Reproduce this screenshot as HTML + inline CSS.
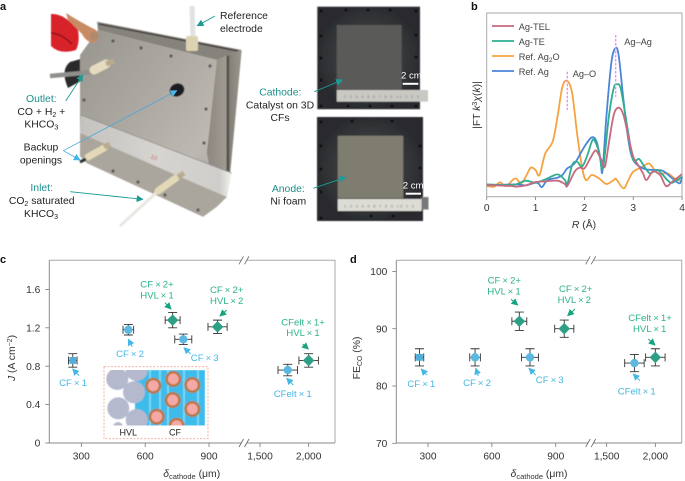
<!DOCTYPE html>
<html>
<head>
<meta charset="utf-8">
<style>
html,body{margin:0;padding:0;background:#fff;width:685px;height:481px;overflow:hidden}
svg{display:block}
text{font-family:"Liberation Sans",sans-serif;font-size:9.6px;fill:#222}
.t{fill:#1b8f8c;font-size:10.4px}
.k{font-size:10.4px;fill:#222}
.tick{font-size:10.2px;fill:#333}
.b{fill:#45b8e6;font-size:9.6px;word-spacing:-0.6px}
.g{fill:#2cb38c;font-size:9.6px;word-spacing:-0.6px}
.pl{font-weight:bold;font-size:11px;fill:#111}
.ttl{font-size:10.4px;fill:#333}
.leg{font-size:9.2px;fill:#444}
</style>
</head>
<body>
<svg id="fig" xmlns="http://www.w3.org/2000/svg" width="685" height="481" viewBox="0 0 685 481">
<defs>
<filter id="soft"><feGaussianBlur stdDeviation="0.45"/></filter>
<linearGradient id="steel" x1="0" y1="0" x2="1" y2="1"><stop offset="0" stop-color="#98958f"/><stop offset=".45" stop-color="#aeaaa3"/><stop offset=".75" stop-color="#bdb9b2"/><stop offset="1" stop-color="#a09c94"/></linearGradient>
<linearGradient id="side" x1="0" y1="0" x2="1" y2="0"><stop offset="0" stop-color="#8b867f"/><stop offset=".55" stop-color="#a09b92"/><stop offset=".6" stop-color="#3d3b38"/><stop offset=".66" stop-color="#86827a"/><stop offset="1" stop-color="#9a9488"/></linearGradient>
<linearGradient id="ruler" x1="0" y1="0" x2="1" y2="0"><stop offset="0" stop-color="#c4c2bf"/><stop offset=".5" stop-color="#d6d4d0"/><stop offset=".92" stop-color="#cfcecb"/><stop offset="1" stop-color="#f1f1ef"/></linearGradient>
<radialGradient id="plate"><stop offset="0" stop-color="#4e5154"/><stop offset="1" stop-color="#2a2c2f"/></radialGradient>
<clipPath id="inset-clip"><rect x="106" y="370" width="99" height="55.5"/></clipPath>
<marker id="ah-t" viewBox="0 0 8 8" refX="7" refY="4" markerWidth="7" markerHeight="7" markerUnits="userSpaceOnUse" orient="auto"><path d="M0 0L8 4L0 8Z" fill="#1b9c94"/></marker>
<marker id="ah-b" viewBox="0 0 8 8" refX="7" refY="4" markerWidth="7" markerHeight="7" markerUnits="userSpaceOnUse" orient="auto"><path d="M0 0L8 4L0 8Z" fill="#45b8e6"/></marker>
<marker id="ah-g" viewBox="0 0 8 8" refX="7" refY="4" markerWidth="7" markerHeight="7" markerUnits="userSpaceOnUse" orient="auto"><path d="M0 0L8 4L0 8Z" fill="#16a37f"/></marker>
</defs>

<text class="pl" x="0" y="10">a</text>
<text class="pl" x="471" y="10">b</text>
<text class="pl" x="0" y="263">c</text>
<text class="pl" x="350" y="263">d</text>

<!-- Panel a photo -->
<g filter="url(#soft)">
  <path d="M70 62 Q60 70 68 88 L90 76 L84 58Z" fill="#2a2a2a"/>
  <polygon points="97,21.7 241.7,50 216.7,60 98,30" fill="#86827b"/>
  <path d="M99 24 L238 51" stroke="#2f2d2b" stroke-width="1.2" fill="none"/>
  <polygon points="216.7,60 241.7,50 230,175 226.7,197 216.7,206.7 206.7,153" fill="url(#side)"/>
  <polygon points="98,30 216.7,60 206.7,153 216.7,206.7 203,216.7 86.7,163 80,156 80,55" fill="url(#steel)"/>
  <polygon points="80,134 226.7,197 216.7,206.7 203,216.7 86.7,163 80,156" fill="#aaa69d"/>
  <polygon points="81,115 231.7,173 226.7,197 80,133" fill="url(#ruler)"/>
  <path d="M81 115 L231.7 173" stroke="#8a8883" stroke-width=".7"/>
  <text x="150" y="158" transform="rotate(21 150 158)" style="font-size:6px;fill:#c9605f">10</text>
  <path d="M51 14 Q64 13 78 30 Q80 42 76 50 Q60 55 51 46Z" fill="#d8222c"/>
  <path d="M51 33 Q62 34 72 44" stroke="#7a1016" stroke-width="1.2" fill="none"/>
  <path d="M66 13 Q80 22 96 30 Q102 38 94 43 Q86 42 82 34 L68 20Z" fill="#c98b63"/>
  <circle cx="94" cy="36" r="4.5" fill="#b08a6c"/>
  <path d="M50 76 L94 72" stroke="#8f8f8b" stroke-width="4.5"/>
  <path d="M94 70 L106 64" stroke="#e5dcc0" stroke-width="9" stroke-linecap="round"/>
  <path d="M106 64 L114 61" stroke="#b9ab8d" stroke-width="5"/>
  <ellipse cx="177" cy="90" rx="7.5" ry="6.5" fill="#1e1f22" transform="rotate(-25 177 90)"/>
  <path d="M192 6 L193 36" stroke="#dfe4e2" stroke-width="5"/>
  <rect x="186" y="36" width="12" height="15" rx="2" fill="#dcd2b2"/>
  <path d="M88 157 L104 148" stroke="#e3d9b8" stroke-width="7" stroke-linecap="round"/>
  <path d="M80 162 L86 159" stroke="#333" stroke-width="3"/>
  <path d="M104 147 L110 144" stroke="#b9ab8d" stroke-width="5"/>
  <path d="M158 191 L176 178" stroke="#e3d9b8" stroke-width="7" stroke-linecap="round"/>
  <path d="M178 177 L184 173" stroke="#b9ab8d" stroke-width="5"/>
  <path d="M120 226 L156 193" stroke="#e7e8e2" stroke-width="3"/>
  <g fill="#5b5a58">
    <circle cx="113" cy="41" r="1.6"/><circle cx="141" cy="48" r="1.6"/><circle cx="171" cy="56" r="1.6"/><circle cx="210" cy="66" r="1.6"/><circle cx="84" cy="100" r="1.6"/><circle cx="206" cy="109" r="1.6"/><circle cx="204" cy="143" r="1.6"/><circle cx="113" cy="171" r="1.6"/><circle cx="138" cy="182" r="1.6"/><circle cx="165" cy="195" r="1.6"/><circle cx="198" cy="210" r="1.6"/>
  </g>
</g>

<!-- Cathode and anode photos -->
<g filter="url(#soft)">
  <rect x="317.3" y="6.7" width="102.7" height="102.5" fill="url(#plate)"/>
  <rect x="336.7" y="25" width="65" height="64.5" fill="#5a5a58"/>
  <rect x="336.7" y="90" width="91.3" height="11.7" fill="#c9c8c3"/>
  <text x="344" y="98" style="font-size:4px;fill:#777" textLength="75">1 2 3 4 5 6 7 8 9 10 1 2 3</text>
  <g fill="#0f0f10"><circle cx="321" cy="11" r="1.5"/><circle cx="346" cy="10" r="1.5"/><circle cx="368" cy="10" r="1.5"/><circle cx="390" cy="10" r="1.5"/><circle cx="416" cy="11" r="1.5"/><circle cx="321" cy="36" r="1.5"/><circle cx="321" cy="58" r="1.5"/><circle cx="321" cy="80" r="1.5"/><circle cx="416" cy="35" r="1.5"/><circle cx="416" cy="57" r="1.5"/><circle cx="321" cy="106" r="1.5"/><circle cx="348" cy="106" r="1.5"/><circle cx="370" cy="106" r="1.5"/><circle cx="392" cy="106" r="1.5"/><circle cx="416" cy="106" r="1.5"/></g>
</g>
<rect x="402.7" y="82.8" width="15.6" height="2" fill="#fff"/>
<text x="401" y="78.5" style="font-size:9.6px;fill:#fff">2 cm</text>

<g filter="url(#soft)">
  <rect x="317" y="117" width="106" height="104" fill="url(#plate)"/>
  <rect x="337.7" y="135.7" width="65.6" height="62.5" fill="#7f7c70"/>
  <rect x="337.7" y="199" width="84" height="12" fill="#dcdbd4"/>
  <rect x="421.5" y="197" width="7" height="12.5" fill="#77787a"/>
  <text x="344" y="207.5" style="font-size:4px;fill:#777" textLength="70">1 2 3 4 5 6 7 8 9 10 1 2</text>
  <g fill="#0f0f10"><circle cx="321" cy="122" r="1.5"/><circle cx="352" cy="121" r="1.5"/><circle cx="392" cy="121" r="1.5"/><circle cx="420" cy="146" r="1.5"/><circle cx="321" cy="146" r="1.5"/><circle cx="321" cy="169" r="1.5"/><circle cx="321" cy="192" r="1.5"/><circle cx="420" cy="168" r="1.5"/><circle cx="321" cy="218" r="1.5"/><circle cx="371" cy="216" r="1.5"/><circle cx="393" cy="216" r="1.5"/></g>
</g>
<rect x="405.7" y="192.7" width="15.3" height="2" fill="#fff"/>
<text x="402.7" y="188.5" style="font-size:9.6px;fill:#fff">2 cm</text>

<!-- Panel a annotations -->
<g>
  <g fill="none" stroke="#1b9c94" stroke-width="0.9">
    <path d="M215 16L197.3 25.7" marker-end="url(#ah-t)"/>
    <path d="M65.7 101L82.7 75" marker-end="url(#ah-t)"/>
    <path d="M70 191.7L142.7 199.3" marker-end="url(#ah-t)"/>
    <path d="M314.3 91.7L342.3 80" marker-end="url(#ah-t)"/>
    <path d="M313.3 188.3L345.7 177.3" marker-end="url(#ah-t)"/>
  </g>
  <g fill="none" stroke="#45a8dc" stroke-width="0.8">
    <path d="M63.3 150.7L176.7 90.7" marker-end="url(#ah-b)"/>
    <path d="M63.3 150.7L80 160" marker-end="url(#ah-b)"/>
  </g>
  <text class="k" x="220" y="19">Reference</text>
  <text class="k" x="220" y="32">electrode</text>
  <g text-anchor="middle">
    <text class="t" x="41.3" y="102">Outlet:</text>
    <text class="k" x="41.3" y="115">CO + H<tspan dy="2" style="font-size:7px">2</tspan><tspan dy="-2"> +</tspan></text>
    <text class="k" x="41.3" y="127.5">KHCO<tspan dy="2" style="font-size:7px">3</tspan></text>
    <text class="k" x="41" y="150.5">Backup</text>
    <text class="k" x="41" y="163.5">openings</text>
    <text class="t" x="41.7" y="191">Inlet:</text>
    <text class="k" x="41.7" y="204">CO<tspan dy="2" style="font-size:7px">2</tspan><tspan dy="-2"> saturated</tspan></text>
    <text class="k" x="41" y="217">KHCO<tspan dy="2" style="font-size:7px">3</tspan></text>
    <text class="t" x="280.3" y="95.5">Cathode:</text>
    <text class="k" x="280" y="108.5">Catalyst on 3D</text>
    <text class="k" x="280" y="121">CFs</text>
    <text class="t" x="288.3" y="192">Anode:</text>
    <text class="k" x="288.3" y="204.5">Ni foam</text>
  </g>
</g>

<!-- Panel b text -->
<text class="ttl" transform="translate(480,105) rotate(-90)" text-anchor="middle">|FT <tspan font-style="italic">k</tspan><tspan dy="-3" style="font-size:7px">3</tspan><tspan dy="3" font-style="italic">χ</tspan>(<tspan font-style="italic">k</tspan>)|</text>
<text class="ttl" x="584" y="228" text-anchor="middle"><tspan font-style="italic">R</tspan> (Å)</text>
<text class="leg" x="572.7" y="77">Ag–O</text>
<text class="leg" x="624.3" y="45">Ag–Ag</text>
<g>
  <path d="M492 26H514" stroke="#c9697f" stroke-width="1.8"/>
  <path d="M492 41H514" stroke="#2fae90" stroke-width="1.8"/>
  <path d="M492 56H514" stroke="#f4a340" stroke-width="1.8"/>
  <path d="M492 71H514" stroke="#4a86d8" stroke-width="1.8"/>
  <text class="leg" x="518.7" y="30">Ag-TEL</text>
  <text class="leg" x="518.7" y="45">Ag-TE</text>
  <text class="leg" x="518.7" y="60">Ref. Ag<tspan dy="2" style="font-size:6.5px">2</tspan><tspan dy="-2">O</tspan></text>
  <text class="leg" x="518.7" y="75">Ref. Ag</text>
</g>

<!-- Panel c/d titles -->
<text class="ttl" transform="translate(15,358) rotate(-90)" text-anchor="middle"><tspan font-style="italic">J</tspan> (A cm<tspan dy="-3" style="font-size:7px">−2</tspan><tspan dy="3">)</tspan></text>
<text class="ttl" transform="translate(360,358) rotate(-90)" text-anchor="middle">FE<tspan dy="2" style="font-size:7px">CO</tspan><tspan dy="-2"> (%)</tspan></text>
<text class="ttl" x="191.7" y="477" text-anchor="middle"><tspan font-style="italic">δ</tspan><tspan dy="2" style="font-size:7.5px">cathode</tspan><tspan dy="-2"> (μm)</tspan></text>
<text class="ttl" x="539" y="477" text-anchor="middle"><tspan font-style="italic">δ</tspan><tspan dy="2" style="font-size:7.5px">cathode</tspan><tspan dy="-2"> (μm)</tspan></text>

<!-- Inset in panel c -->
<g>
  <rect x="104" y="366.7" width="104" height="72" fill="#fff" stroke="#f4a79a" stroke-width=".9" stroke-dasharray="2 1.5"/>
  <g clip-path="url(#inset-clip)" filter="url(#soft)">
    <rect x="135" y="370" width="70" height="56" fill="#3cbcec"/>
    <path d="M150 370V426M160 370V426M168 370V426M184 370V426M198 370V426" stroke="#86dcf5" stroke-width="1.6"/>
    <g fill="#b4b9cd">
      <circle cx="117.3" cy="379" r="11"/><circle cx="136.7" cy="370" r="11"/><circle cx="134" cy="392.3" r="11"/><circle cx="118.3" cy="408.3" r="11"/><circle cx="136.7" cy="420" r="11"/><circle cx="118" cy="427" r="5"/>
    </g>
    <g fill="#b9743f">
      <circle cx="153.3" cy="385.7" r="8"/><circle cx="173.3" cy="379" r="8"/><circle cx="192.3" cy="385" r="8"/><circle cx="172.7" cy="400" r="8"/><circle cx="192.3" cy="409" r="8"/><circle cx="156.7" cy="416.7" r="8"/><circle cx="176.7" cy="425.7" r="8"/>
    </g>
    <g fill="#f4a9a5">
      <circle cx="153.3" cy="385.7" r="5.5"/><circle cx="173.3" cy="379" r="5.5"/><circle cx="192.3" cy="385" r="5.5"/><circle cx="172.7" cy="400" r="5.5"/><circle cx="192.3" cy="409" r="5.5"/><circle cx="156.7" cy="416.7" r="5.5"/><circle cx="176.7" cy="425.7" r="5.5"/>
    </g>
  </g>
  <text x="128.3" y="435.7" text-anchor="middle" style="font-size:9px">HVL</text>
  <text x="175" y="435.7" text-anchor="middle" style="font-size:9px">CF</text>
</g>

<!-- Annotations c -->
<g text-anchor="middle">
  <g fill="none" stroke="#45b8e6" stroke-width="1">
    <path d="M79 375.7L72.7 369" marker-end="url(#ah-b)"/>
    <path d="M132.3 346.7L128.3 339.3" marker-end="url(#ah-b)"/>
    <path d="M190.7 354L184 347.7" marker-end="url(#ah-b)"/>
    <path d="M293.3 385L286.7 378.3" marker-end="url(#ah-b)"/>
  </g>
  <g fill="none" stroke="#16a37f" stroke-width="1">
    <path d="M165 302.7L171 309" marker-end="url(#ah-g)"/>
    <path d="M226.7 310L220 316" marker-end="url(#ah-g)"/>
    <path d="M302.7 344L308.3 349" marker-end="url(#ah-g)"/>
  </g>
  <text class="b" x="73" y="386">CF × 1</text>
  <text class="b" x="130" y="357">CF × 2</text>
  <text class="b" x="204.7" y="361">CF × 3</text>
  <text class="b" x="292.7" y="397">CFelt × 1</text>
  <text class="g" x="157" y="287.5">CF × 2+</text>
  <text class="g" x="157" y="298.5">HVL × 1</text>
  <text class="g" x="226.7" y="293">CF × 2+</text>
  <text class="g" x="226.7" y="304">HVL × 2</text>
  <text class="g" x="303" y="325.5">CFelt × 1+</text>
  <text class="g" x="303" y="336">HVL × 1</text>
</g>

<!-- Annotations d -->
<g text-anchor="middle">
  <g fill="none" stroke="#45b8e6" stroke-width="1">
    <path d="M426.7 375L421.3 369" marker-end="url(#ah-b)"/>
    <path d="M478.3 376L475.7 368.3" marker-end="url(#ah-b)"/>
    <path d="M535.7 375L529 368.3" marker-end="url(#ah-b)"/>
    <path d="M640 380.7L633.3 374" marker-end="url(#ah-b)"/>
  </g>
  <g fill="none" stroke="#16a37f" stroke-width="1">
    <path d="M511 299.3L517.7 305" marker-end="url(#ah-g)"/>
    <path d="M575 309L567.7 315.7" marker-end="url(#ah-g)"/>
    <path d="M648.3 339L655 345" marker-end="url(#ah-g)"/>
  </g>
  <text class="b" x="421.3" y="387">CF × 1</text>
  <text class="b" x="477" y="386">CF × 2</text>
  <text class="b" x="549.7" y="383">CF × 3</text>
  <text class="b" x="636.7" y="394.5">CFelt × 1</text>
  <text class="g" x="504.3" y="283.5">CF × 2+</text>
  <text class="g" x="504" y="294.5">HVL × 1</text>
  <text class="g" x="575.7" y="292">CF × 2+</text>
  <text class="g" x="574.3" y="303">HVL × 2</text>
  <text class="g" x="650" y="321">CFelt × 1+</text>
  <text class="g" x="649.7" y="332">HVL × 1</text>
</g>
</svg>

<script>
// Panel b data: R (Å) and FT magnitude (arbitrary units)
var telR = [0,0.5,0.6,0.8,1.0,1.2,1.45,1.6,1.65,1.8,1.9,2.0,2.1,2.2,2.25,2.35,2.42,2.5,2.6,2.7,2.8,2.9,3.0,3.1,3.2,3.27,3.4,3.55,3.67,3.8,4];
var telV = [35,32,30,34,44,46,48,38,32,75,87,85,110,135,137,110,90,160,245,267,245,180,120,95,70,50,75,65,32,45,68];
var teR = [0,0.4,0.6,0.8,1.0,1.2,1.45,1.6,1.65,1.75,1.85,1.95,2.05,2.15,2.2,2.3,2.38,2.5,2.6,2.67,2.75,2.9,3.0,3.12,3.25,3.35,3.5,3.7,3.8,4];
var teV = [37,35,37,48,42,52,67,50,38,95,105,90,120,165,170,135,85,240,325,337,320,190,110,113,85,70,80,50,42,60];
var ag2oR = [0,0.15,0.27,0.4,0.58,0.7,0.8,0.9,1.0,1.08,1.2,1.35,1.45,1.55,1.65,1.75,1.85,1.95,2.03,2.15,2.3,2.45,2.6,2.65,2.8,2.9,3.0,3.2,3.33,3.5,3.7,3.85,4];
var ag2oV = [32,30,43,32,55,40,60,87,80,65,130,165,240,330,347,310,190,90,50,65,55,38,50,53,25,50,75,90,99,70,70,55,45];
var agR = [0,0.6,0.8,1.0,1.07,1.13,1.25,1.45,1.55,1.65,1.8,2.0,2.15,2.25,2.33,2.37,2.45,2.55,2.63,2.7,2.8,2.9,3.0,3.2,3.4,3.6,3.8,3.95,4];
var agV = [34,37,34,42,38,29,50,57,65,85,100,150,178,165,110,77,240,400,445,425,290,170,110,85,80,78,55,40,60];
var bTicks = [0,1,2,3,4];
var agoPeakR = [1.65];
var agAgPeakR = [2.64];

// Panels c and d data
var thickness = [260,521,729,779,940,1785,2000];
var thicknessErr = [20,25,35,40,45,100,100];
var currentDensity = [0.86,1.18,1.28,1.08,1.21,0.76,0.86];
var currentErr = [0.07,0.055,0.08,0.055,0.07,0.06,0.07];
var faradaicEff = [85,85,91.3,85,90,84,85];
var faradaicErr = [1.5,1.5,1.6,1.5,1.5,1.5,1.5];
var pointKind = ['square','circle','diamond','circle','diamond','circle','diamond'];
var pointNames = ['cf-1','cf-2','cf-2-hvl-1','cf-3','cf-2-hvl-2','cfelt-1','cfelt-1-hvl-1'];
var xTickValues = [300,600,900,1500,2000];
var xTickLabels = ['300','600','900','1,500','2,000'];
var cTickValues = [0,0.4,0.8,1.2,1.6];
var cTickLabels = ['0','0.4','0.8','1.2','1.6'];
var dTickValues = [70,80,90,100];
var dTickLabels = ['70','80','90','100'];

var NS = 'http://www.w3.org/2000/svg';
var fig = document.getElementById('fig');
function mk(tag, attrs, parent) {
  var e = document.createElementNS(NS, tag);
  for (var k in attrs) e.setAttribute(k, attrs[k]);
  (parent || fig).appendChild(e);
  return e;
}
function linePath(d, parent, stroke, w) {
  return mk('path', {d: d, stroke: stroke, 'stroke-width': w, fill: 'none'}, parent);
}

// ---- Panel b ----
function bx(r) { return 486.7 + r * 48.85; }
function by(v) { return 196.7 - v / 3; }
function smooth(xs, ys) {
  var p = xs.map(function (x, i) { return [bx(x), by(ys[i])]; });
  var d = 'M' + p[0][0].toFixed(2) + ' ' + p[0][1].toFixed(2);
  for (var i = 0; i < p.length - 1; i++) {
    var a = p[Math.max(i - 1, 0)], b = p[i], c = p[i + 1], e = p[Math.min(i + 2, p.length - 1)];
    var c1x = b[0] + (c[0] - a[0]) / 6, c1y = b[1] + (c[1] - a[1]) / 6;
    var c2x = c[0] - (e[0] - b[0]) / 6, c2y = c[1] - (e[1] - b[1]) / 6;
    d += 'C' + c1x.toFixed(2) + ' ' + c1y.toFixed(2) + ' ' + c2x.toFixed(2) + ' ' + c2y.toFixed(2) + ' ' + c[0].toFixed(2) + ' ' + c[1].toFixed(2);
  }
  return d;
}
var bFrame = mk('rect', {x: 486.7, y: 13, width: 195.3, height: 183.7, fill: 'none', stroke: '#aaa', 'stroke-width': 1});


bTicks.forEach(function (t) {
  var tick = linePath('M' + bx(t) + ' 196.7V200', fig, '#777', 0.8);
  
  
  var lab = mk('text', {x: bx(t), y: 211, 'text-anchor': 'middle', 'class': 'tick'});
  lab.textContent = String(t);
  
  
});
var s1 = linePath(smooth(ag2oR, ag2oV), fig, '#f4a340', 1.8);


var s2 = linePath(smooth(agR, agV), fig, '#4a86d8', 1.8);


var s3 = linePath(smooth(teR, teV), fig, '#2fae90', 1.8);


var s4 = linePath(smooth(telR, telV), fig, '#c9697f', 1.8);


var p1 = mk('path', {d: 'M' + bx(agoPeakR[0]) + ' 71.7V110', stroke: '#f58af0', 'stroke-width': 1.4, 'stroke-dasharray': '2.5 1.5', fill: 'none'});


var p2 = mk('path', {d: 'M' + bx(agAgPeakR[0]) + ' 35V96.7', stroke: '#f58af0', 'stroke-width': 1.4, 'stroke-dasharray': '2.5 1.5', fill: 'none'});



// ---- Panels c and d ----
function xScale(v, off) {
  return off + (v < 1100 ? 81.3 + (v - 300) * 0.2129 : 260 + (v - 1500) * 0.0973);
}
function yC(v) { return 443 - v * 96; }
function yD(v) { return 443.3 - (v - 70) * 5.73; }

function drawPanel(panel, off, left, right, yf, yVals, yTickVals, yTickLabs, yErr) {
  var g = mk('g', {});
  
  
  var top = 260.3, bot = 443, brk = 244 + off;
  linePath('M' + left + ' ' + top + 'H' + right + 'V' + bot, g, '#aaa', 1);
  linePath('M' + left + ' ' + top + 'V' + bot + 'H' + right, g, '#8a8a8a', 1);
  [top, bot].forEach(function (yy) {
    mk('rect', {x: brk - 2.5, y: yy - 2, width: 5, height: 4, fill: '#fff'}, g);
    linePath('M' + (brk - 5) + ' ' + (yy + 4) + 'L' + (brk - 0.5) + ' ' + (yy - 4) + 'M' + (brk + 0.5) + ' ' + (yy + 4) + 'L' + (brk + 5) + ' ' + (yy - 4), g, '#666', 0.8);
  });
  xTickValues.forEach(function (t, i) {
    var x = xScale(t, off);
    linePath('M' + x + ' ' + bot + 'V' + (bot + 4), g, '#777', 0.8);
    var lab = mk('text', {x: x, y: 459.5, 'text-anchor': 'middle', 'class': 'tick'}, g);
    lab.textContent = xTickLabels[i];
    
    
  });
  yTickVals.forEach(function (t, i) {
    var y = yf(t);
    linePath('M' + (left - 4) + ' ' + y + 'H' + left, g, '#777', 0.8);
    var lab = mk('text', {x: left - 9, y: y + 3.6, 'text-anchor': 'end', 'class': 'tick'}, g);
    lab.textContent = yTickLabs[i];
    
    
  });
  thickness.forEach(function (v, i) {
    var cx = xScale(v, off), cy = yf(yVals[i]);
    var x0 = xScale(v - thicknessErr[i], off), x1 = xScale(v + thicknessErr[i], off);
    var y0 = yf(yVals[i] - yErr[i]), y1 = yf(yVals[i] + yErr[i]);
    var eb = mk('path', {
      d: 'M' + x0 + ' ' + cy + 'H' + x1 + 'M' + x0 + ' ' + (cy - 4) + 'V' + (cy + 4) + 'M' + x1 + ' ' + (cy - 4) + 'V' + (cy + 4) +
         'M' + cx + ' ' + y0 + 'V' + y1 + 'M' + (cx - 4.5) + ' ' + y0 + 'H' + (cx + 4.5) + 'M' + (cx - 4.5) + ' ' + y1 + 'H' + (cx + 4.5),
      stroke: '#333', 'stroke-width': 0.9, fill: 'none'}, g);
    
    
    var m;
    if (pointKind[i] === 'diamond') {
      m = mk('polygon', {points: cx + ',' + (cy - 5.8) + ' ' + (cx + 5.8) + ',' + cy + ' ' + cx + ',' + (cy + 5.8) + ' ' + (cx - 5.8) + ',' + cy, fill: '#2f9e86'}, g);
    } else if (pointKind[i] === 'square') {
      m = mk('rect', {x: cx - 3.4, y: cy - 3.4, width: 6.8, height: 6.8, fill: '#4faedb'}, g);
    } else {
      m = mk('circle', {cx: cx, cy: cy, r: 4.2, fill: '#5bb8e0'}, g);
    }
    
    
  });
}
drawPanel('c', 0, 49.3, 335, yC, currentDensity, cTickValues, cTickLabels, currentErr);
drawPanel('d', 346.7, 396.3, 681.7, yD, faradaicEff, dTickValues, dTickLabels, faradaicErr);
</script>
</body>
</html>
